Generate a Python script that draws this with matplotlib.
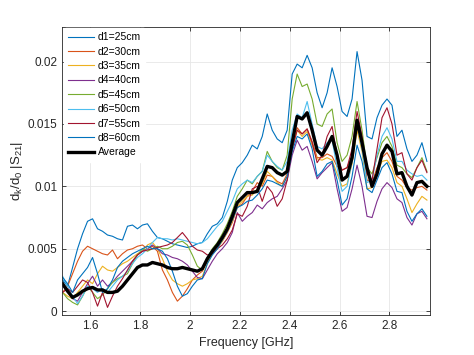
import numpy as np
import matplotlib
matplotlib.use("Agg")
import matplotlib.pyplot as plt
from matplotlib.ticker import FuncFormatter

plt.rcParams['font.family'] = ['Liberation Sans', 'DejaVu Sans']
plt.rcParams['mathtext.fontset'] = 'custom'
plt.rcParams['mathtext.rm'] = 'Liberation Sans'
plt.rcParams['mathtext.it'] = 'Liberation Sans'

# frequency grid in GHz (1.49 ... 2.95, step 0.02)
freq = np.round(np.arange(1.49, 2.951, 0.02), 2)

# values, in units of 1e-3
d1 = [2.5, 2.0, 3.5, 5.0, 6.2, 7.2, 7.4, 6.6, 6.4, 6.1, 6.0, 5.8, 5.7, 6.8, 6.9, 6.6, 6.9, 7.0, 6.4, 5.9,
      5.8, 5.6, 5.4, 5.3, 5.2, 5.1, 5.2, 5.4,
      5.5, 6.2, 6.8, 7.0, 7.5, 8.8, 10.5, 11.5, 11.9, 12.5, 13.3, 13.0, 14.0, 15.8, 14.5, 13.8, 13.5, 14.5,
      19.0, 19.8, 19.5, 20.5, 19.5, 17.5, 16.3, 17.5, 19.5, 18.0, 16.0, 15.6, 17.0, 20.8, 18.5, 14.0, 13.8,
      15.5, 16.5, 17.0, 16.5, 14.0, 14.5, 13.0, 12.0, 12.5, 13.5, 12.0]
d2 = [1.5, 2.0, 3.0, 4.0, 4.8, 5.2, 5.0, 4.8, 4.6, 4.5, 4.9, 4.2, 4.6, 4.9, 5.0, 5.2, 5.3, 5.0, 5.2, 4.8,
      3.3, 2.5, 1.5, 0.8, 1.2, 1.8, 2.5, 2.9,
      3.2, 4.0, 4.6, 5.2, 5.6, 6.3, 7.1, 8.3, 8.6, 9.2, 9.6, 10.3, 10.0, 10.9, 10.8, 10.4, 10.2, 11.0,
      13.0, 14.7, 14.2, 14.6, 13.6, 12.3, 12.3, 12.6, 12.4, 11.6, 11.3, 11.5, 12.5, 15.0, 13.5, 10.5, 10.3,
      11.5, 12.3, 12.7, 12.0, 10.8, 10.5, 9.9, 9.7, 9.9, 10.0, 9.7]
d3 = [1.5, 1.2, 1.0, 1.5, 2.0, 2.5, 2.2, 3.0, 3.6, 3.3, 3.2, 3.5, 3.8, 4.0, 4.3, 4.6, 4.8, 5.3, 5.5, 5.0,
      4.2, 3.2, 2.5, 2.2, 2.0, 2.2, 2.5, 2.6,
      2.8, 3.8, 4.6, 5.0, 5.6, 6.4, 7.2, 8.4, 8.8, 9.2, 9.3, 9.8, 10.2, 11.2, 10.8, 10.3, 10.0, 10.8,
      13.0, 14.5, 14.0, 14.4, 13.3, 12.2, 12.1, 12.3, 12.1, 11.0, 10.0, 10.2, 11.8, 14.5, 12.8, 9.8, 9.9,
      11.0, 12.0, 12.1, 11.5, 10.3, 10.0, 9.0, 7.9, 8.6, 9.2, 8.9]
d4 = [2.0, 1.6, 1.0, 0.8, 1.5, 2.2, 2.8, 2.0, 2.5, 2.0, 2.3, 2.8, 3.2, 3.6, 4.0, 4.5, 4.8, 5.0, 5.3, 5.0,
      4.6, 4.5, 4.3, 4.2, 4.0, 3.7, 3.2, 2.7,
      2.6, 3.3, 4.0, 4.6, 5.0, 5.5, 6.3, 7.9, 7.2, 7.6, 7.9, 8.5, 8.2, 8.7, 9.0, 9.2, 9.8, 10.5,
      12.5, 13.7, 12.9, 13.2, 12.0, 10.6, 11.1, 11.5, 11.9, 9.8, 8.0, 8.3, 9.8, 11.7, 10.0, 7.6, 7.5,
      8.8, 9.8, 10.3, 9.9, 9.0, 8.7, 7.5, 6.9, 7.8, 8.0, 7.4]
d5 = [1.5, 1.0, 0.7, 0.5, 1.2, 2.0, 1.5, 1.0, 1.3, 1.8, 2.3, 2.6, 2.8, 3.0, 3.8, 4.5, 5.0, 4.8, 5.0, 5.2,
      5.0, 5.0, 5.2, 5.5, 5.6, 5.3, 4.5, 3.6,
      3.3, 4.3, 5.0, 5.5, 6.2, 7.0, 8.0, 9.2, 9.8, 10.5, 10.2, 10.8, 11.2, 12.8, 12.0, 11.5, 11.3, 12.5,
      17.0, 19.0, 18.0, 18.2, 17.0, 15.0, 14.8, 15.8, 16.2, 13.5, 12.0, 12.5, 14.0, 16.8, 14.5, 11.5, 11.0,
      12.3, 13.5, 14.0, 13.2, 11.7, 11.5, 11.0, 10.7, 11.5, 12.3, 11.2]
d6 = [2.8, 2.0, 1.2, 0.6, 1.2, 2.0, 1.8, 1.5, 1.8, 1.5, 2.0, 2.5, 2.8, 3.2, 3.8, 4.3, 4.6, 5.0, 5.5, 5.9,
      5.8, 5.8, 5.7, 5.8, 5.7, 5.6, 5.5, 5.4,
      5.5, 5.8, 6.3, 6.8, 7.2, 8.0, 8.8, 9.8, 10.2, 10.5, 10.3, 10.8, 11.2, 12.5, 12.0, 11.6, 11.3, 12.0,
      14.5, 15.8, 15.5, 16.8, 15.0, 13.2, 13.0, 13.5, 13.7, 11.5, 9.6, 10.0, 12.0, 15.0, 13.0, 10.3, 10.5,
      12.5, 14.0, 14.7, 13.8, 12.0, 12.0, 11.3, 11.0, 10.8, 10.9, 10.5]
d7 = [1.5, 1.8, 1.5, 2.0, 2.5, 2.3, 1.5, 0.4, 1.5, 0.3, 1.2, 2.0, 2.6, 3.3, 4.0, 4.5, 4.8, 4.9, 5.0, 5.1,
      5.2, 5.3, 5.5, 5.9, 6.3, 5.8, 5.2, 4.9,
      4.8, 4.5, 4.6, 5.0, 5.3, 5.8, 6.5, 7.8, 7.6, 8.4, 9.8, 10.0, 8.8, 10.0, 9.5, 8.4, 9.0, 10.5,
      13.0, 14.5, 14.2, 14.6, 13.5, 11.9, 12.5, 14.0, 14.8, 12.5, 11.3, 11.5, 13.0, 16.0, 14.0, 11.0, 10.5,
      13.0, 15.5, 16.3, 15.0, 12.5, 12.7, 11.0, 10.5, 11.5, 12.1, 11.1]
d8 = [2.7, 2.2, 1.5, 2.5, 3.0, 3.5, 4.3, 3.0, 1.5, 1.8, 2.5, 3.5, 4.0, 4.3, 4.6, 4.8, 5.0, 5.2, 5.0, 5.0,
      4.8, 4.2, 3.2, 2.0, 1.2, 1.4, 2.0, 2.5,
      2.6, 3.8, 4.5, 5.0, 5.7, 6.4, 7.3, 8.3, 8.5, 8.8, 8.9, 9.3, 9.8, 10.5, 10.4, 10.2, 10.0, 10.8,
      12.8, 14.0, 13.8, 14.2, 13.0, 10.8, 11.2, 11.8, 12.0, 10.5, 8.5, 9.0, 10.8, 13.3, 12.0, 9.8, 9.5,
      10.5, 11.5, 11.9, 11.0, 9.6, 9.5, 8.0, 7.2, 7.8, 8.2, 7.6]
average = [2.2, 1.6, 1.1, 1.3, 1.6, 1.8, 1.9, 1.7, 1.7, 1.5, 1.5, 1.6, 2.0, 2.5, 3.0, 3.5, 3.7, 3.7, 3.9, 3.8,
           3.7, 3.5, 3.4, 3.4, 3.5, 3.4, 3.3, 3.2,
           3.4, 4.2, 4.8, 5.3, 5.9, 6.6, 7.6, 8.7, 9.1, 9.5, 9.5, 9.6, 10.6, 11.6, 11.5, 11.1, 10.9, 11.2,
           13.5, 15.6, 15.4, 15.9, 14.5, 12.9, 12.5, 13.2, 14.0, 12.5, 10.5, 10.8, 12.3, 15.3, 13.5, 11.5, 10.0,
           11.0, 12.6, 13.3, 12.8, 11.0, 11.1, 10.0, 9.3, 10.3, 10.4, 10.0]

labels = ["d1=25cm", "d2=30cm", "d3=35cm", "d4=40cm", "d5=45cm", "d6=50cm", "d7=55cm", "d8=60cm"]
series = [d1, d2, d3, d4, d5, d6, d7, d8]
colors = ["#0072BD", "#D95319", "#EDB120", "#7E2F8E", "#77AC30", "#4DBEEE", "#A2142F", "#0072BD"]

fig = plt.figure(figsize=(4.74, 3.55), dpi=100)
ax = fig.add_axes([0.131, 0.113, 0.776, 0.812])

for s, lab, c in zip(series, labels, colors):
    ax.plot(freq, np.array(s) * 1e-3, color=c, lw=0.8, label=lab)
ax.plot(freq, np.array(average) * 1e-3, color="black", lw=2.4, label="Average")

ax.set_xlim(1.488, 2.962)
ax.set_ylim(-0.0003, 0.0228)
ax.set_xticks([1.6, 1.8, 2.0, 2.2, 2.4, 2.6, 2.8])
ax.set_yticks([0, 0.005, 0.01, 0.015, 0.02])
ax.xaxis.set_major_formatter(FuncFormatter(lambda v, p: "%g" % round(v, 3)))
ax.yaxis.set_major_formatter(FuncFormatter(lambda v, p: "%g" % round(v, 4)))

gray = "#262626"
ax.grid(True, color="#e6e6e6", lw=0.6)
ax.set_axisbelow(True)
ax.tick_params(direction="in", top=True, right=True, length=3, width=0.6,
               colors=gray, labelsize=8.5)
for sp in ax.spines.values():
    sp.set_color(gray)
    sp.set_linewidth(0.6)

ax.set_xlabel("Frequency [GHz]", fontsize=9, color=gray)
ax.set_ylabel(r"d$_k$/d$_0$ |S$_{21}$|", fontsize=9.5, color=gray, labelpad=2)

leg = ax.legend(loc="upper left", fontsize=7.5, frameon=True, handlelength=2.5,
                handletextpad=0.4, borderaxespad=0.15, labelspacing=0.42)
leg.get_frame().set_edgecolor("white")
leg.get_frame().set_alpha(1)

fig.savefig("out.png", dpi=100)
